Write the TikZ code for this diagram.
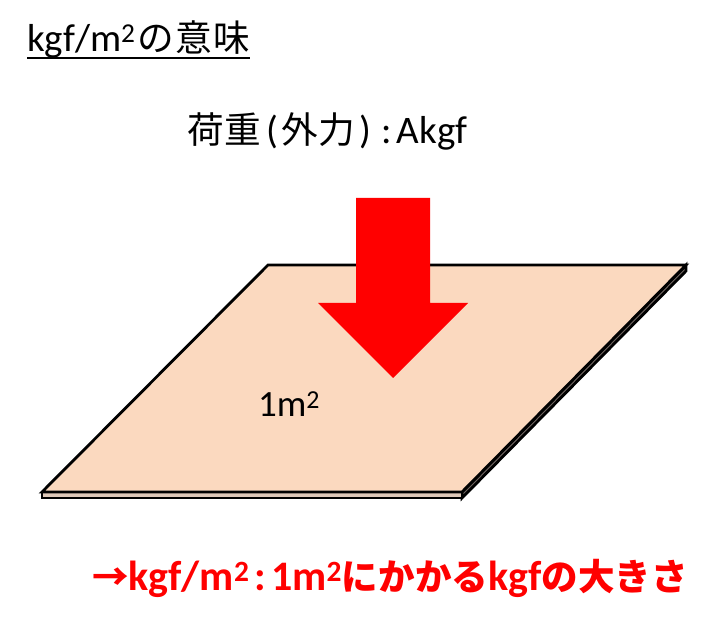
\documentclass[tikz,border=0pt]{standalone}
\usepackage{fontspec}
\setmainfont{Carlito}
\newfontfamily\jpfont[Scale=0.94,LetterSpace=3]{Noto Sans CJK JP}
\newfontfamily\jpredfont[Scale=0.87]{Noto Sans CJK JP}
\definecolor{platetop}{RGB}{251,217,191}
\definecolor{platefront}{RGB}{222,200,184}
\definecolor{plateside}{RGB}{110,100,96}
\definecolor{loadred}{RGB}{255,0,0}
\tikzset{
  textlabel/.style={anchor=base west,inner sep=0pt,outer sep=0pt},
  plateline/.style={draw=black,line width=2.8bp,line join=miter},
}
\begin{document}
\begin{tikzpicture}[>=latex,line join=bevel,]
\useasboundingbox (0bp,0bp) rectangle (704bp,624bp);
%%
% plate (top face, front edge, right edge)
\coordinate (plate_a) at (268bp,359bp);
\coordinate (plate_b) at (686bp,359bp);
\coordinate (plate_c) at (462bp,132bp);
\coordinate (plate_d) at (42bp,132bp);
\filldraw [plateline,fill=plateside] (plate_c) -- (plate_b) -- ([yshift=-6bp]plate_b) -- ([yshift=-6bp]plate_c) -- cycle;
\filldraw [plateline,fill=platefront] (plate_d) -- (plate_c) -- ([yshift=-6bp]plate_c) -- ([yshift=-6bp]plate_d) -- cycle;
\filldraw [plateline,fill=platetop] (plate_a) -- (plate_b) -- (plate_c) -- (plate_d) -- cycle;
%
% load arrow
\fill [loadred] (356bp,426bp) -- (430bp,426bp) -- (430bp,321bp) -- (468bp,321bp)
  -- (393bp,246bp) -- (318bp,321bp) -- (356bp,321bp) -- cycle;
%
\node (title) at (27bp,572bp) [textlabel,font=\fontsize{39bp}{44bp}\selectfont] {kgf/m\textsuperscript{2}\hspace{2bp}{\jpfont の意味}};
  \draw [line width=2bp] ([yshift=-6bp]title.base west) -- ([yshift=-6bp]title.base east);
\node (load) at (187bp,480bp) [textlabel,font=\fontsize{39bp}{44bp}\selectfont] {{\jpfont 荷重}\hspace{5bp}(\hspace{3bp}{\jpfont 外力}\hspace{4bp})\hspace{10bp}:\hspace{5bp}Akgf};
\node (area) at (258bp,207bp) [textlabel,font=\fontsize{37bp}{42bp}\selectfont] {1m\textsuperscript{2}};
\node (meaning) at (92bp,34bp) [textlabel,text=loadred,font=\fontsize{42bp}{48bp}\selectfont\bfseries] {{\jpredfont →}kgf/m\textsuperscript{2}\hspace{5bp}:\hspace{5bp}1m\textsuperscript{2}{\jpredfont にかかる}kgf{\jpredfont の大きさ}};
%
\end{tikzpicture}
\end{document}
